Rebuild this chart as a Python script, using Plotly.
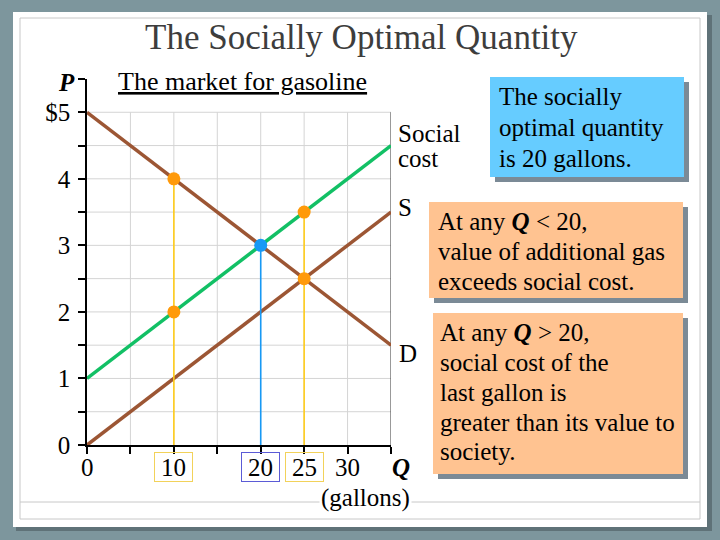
import plotly.graph_objects as go

# ---------------- data ----------------
q_ends = [0, 35]
demand_p = [5, 1.5]
supply_p = [0, 3.5]
social_cost_p = [1, 4.5]

orange_q = [10, 10, 25, 25]
orange_p = [4, 2, 3.5, 2.5]
optimum_q = [20]
optimum_p = [3]

drop_q = [10, 25]
drop_top = [4, 3.5]

y_tick_vals = [0, 0.5, 1, 1.5, 2, 2.5, 3, 3.5, 4, 4.5, 5, 5.5]
y_tick_text = ["0", "", "1", "", "2", "", "3", "", "4", "", "$5", ""]
x_tick_vals = [0, 5, 10, 15, 20, 25, 30, 35]
x_label_vals = [0, 10, 20, 25, 30]
x_label_boxes = ["", "#f2d25a", "#5b5bd6", "#f2d25a", ""]

box1_lines = ["The socially", "optimal quantity", "is 20 gallons."]
box2_lines = ["At any <b><i>Q</i></b> < 20,", "value of additional gas", "exceeds social cost."]
box3_lines = ["At any <b><i>Q</i></b> > 20,", "social cost of the", "last gallon is",
              "greater than its value to", "society."]

# ---------------- styles ----------------
FONT = "Liberation Serif"
BROWN = "#9c5634"
GREEN = "#12c065"
ORANGE = "#ff9a0a"
BLUE = "#1799f5"
YELLOW = "#ffcc1a"
SLIDE_BG = "#7d969d"

L, R, T, B = 87, 329, 79, 95
W = 720 - L - R
H = 540 - T - B


def px(x):
    return (x - L) / W


def py(y):
    return (540 - B - y) / H


fig = go.Figure()

# demand / supply / social cost
fig.add_trace(go.Scatter(x=q_ends, y=demand_p, mode="lines",
                         line=dict(color=BROWN, width=3.5), hoverinfo="skip"))
fig.add_trace(go.Scatter(x=q_ends, y=supply_p, mode="lines",
                         line=dict(color=BROWN, width=3.5), hoverinfo="skip"))
fig.add_trace(go.Scatter(x=q_ends, y=social_cost_p, mode="lines",
                         line=dict(color=GREEN, width=3.5), hoverinfo="skip"))

# drop lines
for q, top in zip(drop_q, drop_top):
    fig.add_trace(go.Scatter(x=[q, q], y=[0, top], mode="lines",
                             line=dict(color=YELLOW, width=1.6), hoverinfo="skip"))
fig.add_trace(go.Scatter(x=[optimum_q[0], optimum_q[0]], y=[0, optimum_p[0]], mode="lines",
                         line=dict(color=BLUE, width=1.6), hoverinfo="skip"))

# points
fig.add_trace(go.Scatter(x=orange_q, y=orange_p, mode="markers",
                         marker=dict(color=ORANGE, size=13), hoverinfo="skip"))
fig.add_trace(go.Scatter(x=optimum_q, y=optimum_p, mode="markers",
                         marker=dict(color=BLUE, size=13), hoverinfo="skip"))

shapes = []
# slide panel shadow + panel
shapes.append(dict(type="rect", xref="paper", yref="paper", layer="below",
                   x0=px(16), x1=px(712), y0=py(15), y1=py(531),
                   fillcolor="#5f7278", line=dict(width=0)))
shapes.append(dict(type="rect", xref="paper", yref="paper", layer="below",
                   x0=px(13), x1=px(707), y0=py(12), y1=py(527),
                   fillcolor="white", line=dict(width=0)))
shapes.append(dict(type="rect", xref="paper", yref="paper", layer="below",
                   x0=px(20), x1=px(700), y0=py(18), y1=py(519),
                   fillcolor="rgba(0,0,0,0)", line=dict(color="#c8c8c8", width=1)))
shapes.append(dict(type="line", xref="paper", yref="paper", layer="below",
                   x0=px(20), x1=px(700), y0=py(502), y1=py(502),
                   line=dict(color="#c8c8c8", width=1)))

# grid
for v in y_tick_vals:
    if 0 < v <= 5:
        shapes.append(dict(type="line", xref="x", yref="y", layer="below",
                           x0=0, x1=35, y0=v, y1=v, line=dict(color="#d4d4d4", width=1)))
for v in x_tick_vals:
    if 0 < v < 35:
        shapes.append(dict(type="line", xref="x", yref="y", layer="below",
                           x0=v, x1=v, y0=0, y1=5, line=dict(color="#d4d4d4", width=1)))
shapes.append(dict(type="line", xref="x", yref="y", layer="below",
                   x0=35, x1=35, y0=0, y1=5, line=dict(color="#333333", width=1)))


# text boxes
def box(x0, y0, x1, y1, color):
    shapes.append(dict(type="rect", xref="paper", yref="paper", layer="below",
                       x0=px(x0 + 5), x1=px(x1 + 5), y0=py(y0 + 5), y1=py(y1 + 5),
                       fillcolor="#7b8a96", line=dict(width=0)))
    shapes.append(dict(type="rect", xref="paper", yref="paper", layer="below",
                       x0=px(x0), x1=px(x1), y0=py(y0), y1=py(y1),
                       fillcolor=color, line=dict(width=0)))


box(490, 77, 684, 177, "#66ccff")
box(429, 202, 683, 298, "#ffc391")
box(433, 313, 683, 474, "#ffc391")

annotations = []


def txt(x, y, s, size=25, anchor="left", **kw):
    annotations.append(dict(xref="paper", yref="paper", x=px(x), y=py(y), text=s,
                            showarrow=False, xanchor=anchor, yanchor="middle",
                            font=dict(family=FONT, size=size, color=kw.pop("color", "black")),
                            **kw))


# title and labels
txt(361, 38, "The Socially Optimal Quantity", size=35, anchor="center", color="#3d3d3d")
txt(116, 81, "<u>The market for gasoline</u>", size=26)
txt(66, 82, "<b><i>P</i></b>", size=25, anchor="center")
txt(401, 467, "<b><i>Q</i></b>", size=25, anchor="center")
txt(365, 498, "(gallons)", size=25, anchor="center", bgcolor="white")
txt(396, 133, "Social", size=25)
txt(396, 158, "cost", size=25)
txt(396, 207, "S", size=25)
txt(397, 353, "D", size=25)

for i, s in enumerate(box1_lines):
    txt(497, 96 + 31 * i, s)
for i, s in enumerate(box2_lines):
    txt(436, 221 + 30 * i, s)
for i, s in enumerate(box3_lines):
    txt(438, 332 + 30 * i, s)

# x tick labels (some boxed)
for v, bc in zip(x_label_vals, x_label_boxes):
    a = dict(xref="x", yref="paper", x=v, y=py(467), text=str(v), showarrow=False,
             xanchor="center", yanchor="middle",
             font=dict(family=FONT, size=25, color="black"))
    if bc:
        a.update(bordercolor=bc, borderwidth=1, borderpad=1, width=35, height=26)
    annotations.append(a)

fig.update_layout(
    width=720, height=540,
    margin=dict(l=L, r=R, t=T, b=B, pad=0),
    paper_bgcolor=SLIDE_BG,
    plot_bgcolor="rgba(0,0,0,0)",
    showlegend=False,
    shapes=shapes,
    annotations=annotations,
    xaxis=dict(range=[0, 35], showgrid=False, zeroline=False, showline=True,
               linecolor="black", linewidth=1.5, ticks="outside", ticklen=7,
               tickwidth=1.5, tickcolor="black", tickvals=x_tick_vals,
               showticklabels=False, fixedrange=True),
    yaxis=dict(range=[0, 5.5], showgrid=False, zeroline=False, showline=True,
               linecolor="black", linewidth=1.5, ticks="outside", ticklen=7,
               tickwidth=1.5, tickcolor="black", tickvals=y_tick_vals,
               ticktext=y_tick_text, ticklabelstandoff=3,
               tickfont=dict(family=FONT, size=25, color="black"), fixedrange=True),
)

fig.write_html("out.html", config={"displayModeBar": False},
               post_script="document.body.style.margin='0';document.body.style.overflow='hidden';")
